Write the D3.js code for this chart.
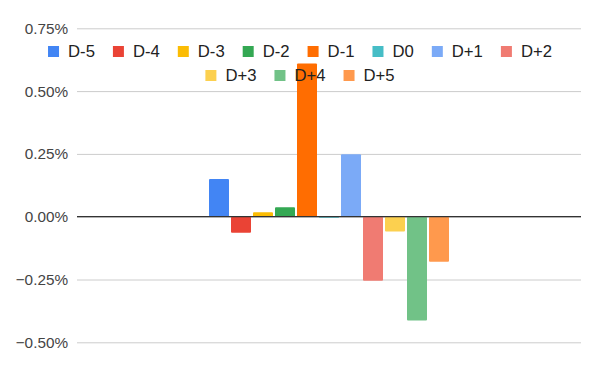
<!DOCTYPE html>
<html>
<head>
<meta charset="utf-8">
<script src="https://cdn.jsdelivr.net/npm/d3@7"></script>
<style>
  body { margin: 0; background: #fff; }
  svg { display: block; font-family: "Liberation Sans", Arial, sans-serif; }
</style>
</head>
<body>
<div class="chart"></div>
<script>
const WIDTH = 600;
const HEIGHT = 371;
const margins = {left: 77, right: 19, top: 28.3, bottom: 28.7};

// one category, eleven series (values in %)
const categories = [""];
const seriesNames = ["D-5", "D-4", "D-3", "D-2", "D-1", "D0", "D+1", "D+2", "D+3", "D+4", "D+5"];
const seriesValues = [0.150, -0.064, 0.018, 0.038, 0.610, -0.004, 0.249, -0.255, -0.059, -0.413, -0.179];
const seriesColors = ["#4285F4", "#EA4335", "#FBBC04", "#34A853", "#FF6D01", "#46BDC6",
  "#7BAAF7", "#F07B72", "#FCD04F", "#71C287", "#FF994D"];
const yTicks = [-0.5, -0.25, 0, 0.25, 0.5, 0.75];

const plotW = WIDTH - margins.left - margins.right;
const plotH = HEIGHT - margins.top - margins.bottom;

const svg = d3.select('.chart')
  .append('svg')
  .attr("width", WIDTH)
  .attr("height", HEIGHT);

const chart = svg.append('g')
  .attr("transform", `translate(${margins.left}, ${margins.top})`);

const y = d3.scaleLinear()
  .domain([-0.5, 0.75])
  .range([plotH, 0]);

const x0 = d3.scaleBand()
  .domain(categories)
  .range([0, plotW])
  .paddingInner(0)
  .paddingOuter(0.55);

const x1 = d3.scaleBand()
  .domain(seriesNames)
  .range([0, x0.bandwidth()])
  .paddingInner(2 / 22)
  .paddingOuter(0);

// gridlines + labels
const yAxis = d3.axisLeft(y)
  .tickValues(yTicks)
  .tickSize(-plotW)
  .tickPadding(9)
  .tickFormat(d => d3.format(".2f")(d) + "%");

const axisG = chart.append("g").call(yAxis);
axisG.select(".domain").remove();
axisG.selectAll(".tick line")
  .attr("stroke", "#cccccc")
  .attr("stroke-width", 1);
axisG.selectAll(".tick text")
  .attr("fill", "#444")
  .attr("font-size", 15.3)
  .attr("font-family", "Liberation Sans, Arial, sans-serif");

// bars
const group = chart.selectAll("g.group")
  .data(categories)
  .enter()
  .append("g")
  .attr("class", "group")
  .attr("transform", d => `translate(${x0(d)}, 0)`);

group.selectAll("rect.bar")
  .data(seriesNames.map((name, i) => ({name, value: seriesValues[i], color: seriesColors[i]})))
  .enter()
  .append("rect")
  .attr("class", "bar")
  .attr("x", d => x1(d.name))
  .attr("y", d => y(Math.max(0, d.value)))
  .attr("width", x1.bandwidth())
  .attr("height", d => Math.abs(y(d.value) - y(0)))
  .attr("rx", 1)
  .attr("fill", d => d.color);

// zero baseline
chart.append("line")
  .attr("x1", 0)
  .attr("x2", plotW)
  .attr("y1", y(0))
  .attr("y2", y(0))
  .attr("stroke", "#333")
  .attr("stroke-width", 1.2);

// legend, wrapped in rows and centred
const legendFont = 16.7;
const swatch = 11, swatchGap = 9, itemGap = 18, rowHeight = 24, maxRow = 530;
const legend = svg.append("g").attr("class", "legend");

const measure = legend.append("text").attr("font-size", legendFont);
const items = seriesNames.map((name, i) => {
  measure.text(name);
  return {name, color: seriesColors[i], w: swatch + swatchGap + measure.node().getComputedTextLength()};
});
measure.remove();

const rows = [[]];
let rowW = 0;
items.forEach(it => {
  const add = (rows[rows.length - 1].length ? itemGap : 0) + it.w;
  if (rowW + add > maxRow && rows[rows.length - 1].length) {
    rows.push([]);
    rowW = it.w;
  } else {
    rowW += add;
  }
  rows[rows.length - 1].push(it);
});

rows.forEach((row, r) => {
  const total = d3.sum(row, d => d.w) + itemGap * (row.length - 1);
  let cx = WIDTH / 2 - total / 2;
  const baseline = 56.7 + r * rowHeight;
  row.forEach(it => {
    const g = legend.append("g").attr("transform", `translate(${cx}, ${baseline})`);
    g.append("rect")
      .attr("x", 0)
      .attr("y", -10.7)
      .attr("width", swatch)
      .attr("height", swatch)
      .attr("fill", it.color);
    g.append("text")
      .attr("x", swatch + swatchGap)
      .attr("y", 0)
      .attr("font-size", legendFont)
      .attr("fill", "#222")
      .text(it.name);
    cx += it.w + itemGap;
  });
});
</script>
</body>
</html>
